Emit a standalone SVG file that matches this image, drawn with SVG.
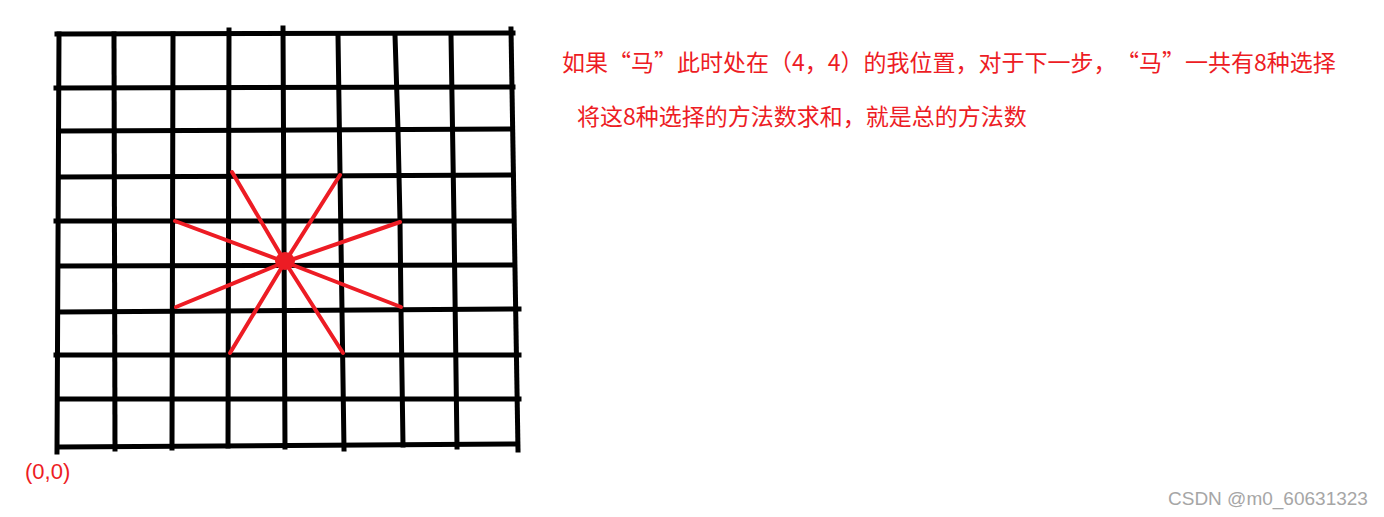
<svg xmlns="http://www.w3.org/2000/svg" width="1384" height="517" viewBox="0 0 1384 517">
<style>
.g{fill:none;stroke:#000;stroke-width:5;stroke-linecap:square;stroke-linejoin:round}
.r{fill:none;stroke:#ED1C24;stroke-width:4;stroke-linecap:round}
.t{font-family:"Noto Sans CJK SC","Liberation Sans",sans-serif;font-size:23px;fill:#ED1C24;text-spacing-trim:space-all}
.o{font-family:"Liberation Sans",Arial,sans-serif;font-size:22px;fill:#ED1C24}
.w{font-family:"Liberation Sans",Arial,sans-serif;font-size:19px;fill:#A6A6A6}
</style>
<rect width="1384" height="517" fill="#fff"/>
<g id="grid">
<polyline class="g" points="57,34 513,33"/>
<polyline class="g" points="56,88 513,87"/>
<polyline class="g" points="59,131 512,129"/>
<polyline class="g" points="59,177 513,175"/>
<polyline class="g" points="56,221 513,221"/>
<polyline class="g" points="59,266 514,265"/>
<polyline class="g" points="59,312 519,309"/>
<polyline class="g" points="56,355 519,355"/>
<polyline class="g" points="59,399 519,399"/>
<polyline class="g" points="59,447 517,444"/>
<polyline class="g" points="59,34 57,452"/>
<polyline class="g" points="114,34 115,449"/>
<polyline class="g" points="173,34 172,448"/>
<polyline class="g" points="229,30 228,446"/>
<polyline class="g" points="283,28 285,447"/>
<polyline class="g" points="338,35 344,449"/>
<polyline class="g" points="395,35 398,130 400,221 401,310 403,445"/>
<polyline class="g" points="451,35 454,221 457,447"/>
<polyline class="g" points="511,29 518,450"/>
</g>
<g id="moves">
<line class="r" x1="285" y1="262" x2="232" y2="172"/>
<line class="r" x1="285" y1="262" x2="340" y2="175"/>
<line class="r" x1="285" y1="262" x2="175" y2="221"/>
<line class="r" x1="285" y1="262" x2="400" y2="222"/>
<line class="r" x1="285" y1="262" x2="176" y2="307"/>
<line class="r" x1="285" y1="262" x2="401" y2="307"/>
<line class="r" x1="285" y1="262" x2="230" y2="353"/>
<line class="r" x1="285" y1="262" x2="343" y2="353"/>
<ellipse id="knight" cx="285" cy="261" rx="10" ry="9" fill="#ED1C24"/>
</g>
<g id="labels">
<text class="t" x="562" y="71">如果“马”此时处在（4，4）的我位置，对于下一步，<tspan x="1116">“马”一共有8种选择</tspan></text>
<text class="t" x="577" y="125">将这8种选择的方法数求和，就是总的方法数</text>
<text class="o" x="25" y="479">(0,0)</text>
<text class="w" x="1168" y="505">CSDN @m0_60631323</text>
</g>
</svg>
